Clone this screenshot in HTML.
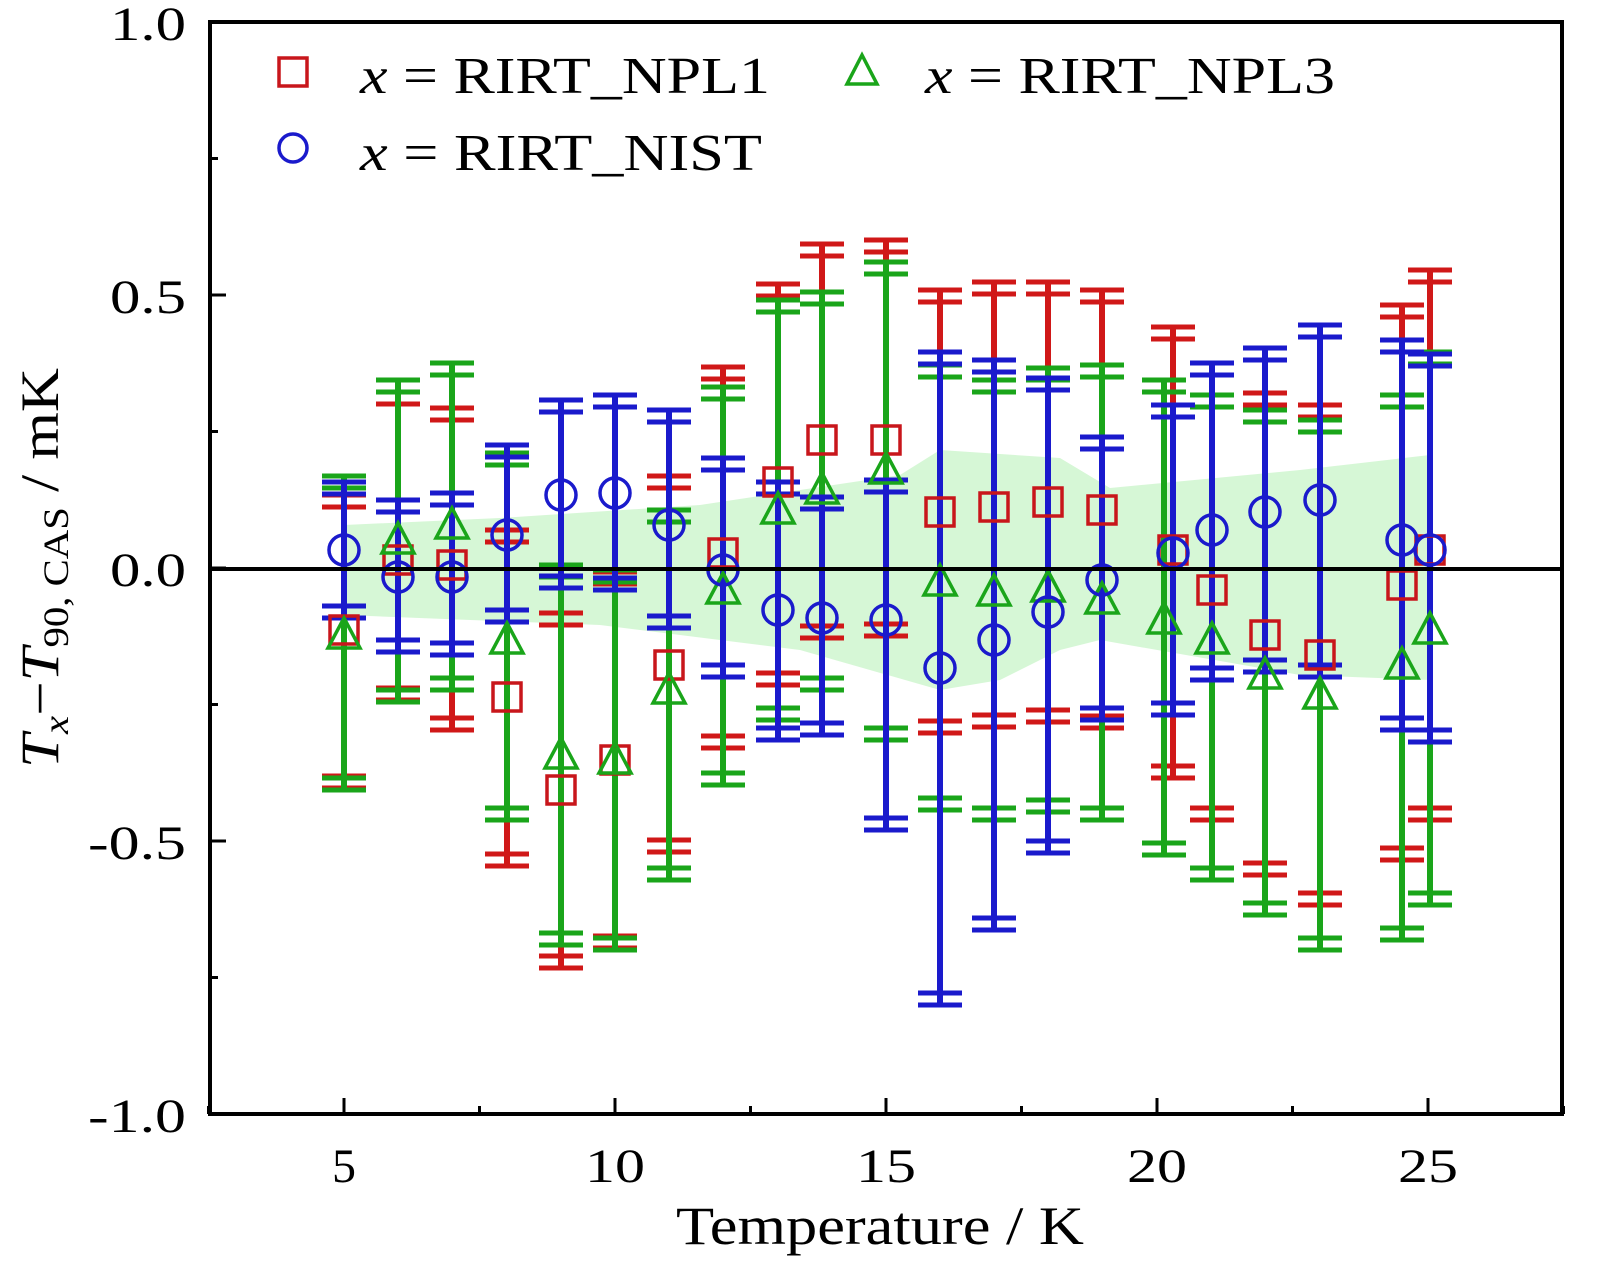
<!DOCTYPE html>
<html><head><meta charset="utf-8"><style>
html,body{margin:0;padding:0;background:#fff;}
svg{display:block;}
text{font-family:"Liberation Serif",serif;fill:#000;}
</style></head><body>
<svg id="s" width="1600" height="1284" viewBox="0 0 1600 1284" xmlns="http://www.w3.org/2000/svg">
<polygon points="344,525 500,518 700,505 900,475 940,450 1060,458 1110,488 1300,470 1430,455 1430,680 1300,675 1100,640 1060,650 1000,680 940,690 800,650 600,625 344,615" fill="#ccf5cc" opacity="0.8"/>
<g id="data"></g>
<line x1="210" y1="569" x2="1562" y2="569" stroke="#000" stroke-width="4"/>
<rect x="210" y="22" width="1352" height="1092" fill="none" stroke="#000" stroke-width="4"/>
<g id="ticks" stroke="#000" stroke-width="3"></g>
<g font-size="48" text-anchor="end" lengthAdjust="spacingAndGlyphs">
<text x="186" y="40" textLength="76" lengthAdjust="spacingAndGlyphs">1.0</text><text x="186" y="313" textLength="76" lengthAdjust="spacingAndGlyphs">0.5</text><text x="186" y="586" textLength="76" lengthAdjust="spacingAndGlyphs">0.0</text><text x="186" y="859" textLength="98" lengthAdjust="spacingAndGlyphs">-0.5</text><text x="186" y="1132" textLength="98" lengthAdjust="spacingAndGlyphs">-1.0</text>
</g>
<g font-size="48" text-anchor="middle">
<text x="344" y="1182" textLength="24" lengthAdjust="spacingAndGlyphs">5</text><text x="615" y="1182" textLength="60" lengthAdjust="spacingAndGlyphs">10</text><text x="886" y="1182" textLength="60" lengthAdjust="spacingAndGlyphs">15</text><text x="1157" y="1182" textLength="60" lengthAdjust="spacingAndGlyphs">20</text><text x="1428" y="1182" textLength="60" lengthAdjust="spacingAndGlyphs">25</text>
<text x="880" y="1244" font-size="54" textLength="408" lengthAdjust="spacingAndGlyphs">Temperature / K</text>
</g>
<text transform="translate(58,568) rotate(-90)" text-anchor="middle" font-size="54" textLength="400" lengthAdjust="spacingAndGlyphs"><tspan font-style="italic">T</tspan><tspan font-style="italic" font-size="36" dy="10">x</tspan><tspan dy="-10">−</tspan><tspan font-style="italic">T</tspan><tspan font-size="36" dy="10">90, CAS</tspan><tspan dy="-10"> / mK</tspan></text>
<g font-size="52">
<rect x="279" y="58" width="28" height="28" fill="none" stroke="#c8161b" stroke-width="3.5"/>
<text x="360" y="93" textLength="410" lengthAdjust="spacingAndGlyphs"><tspan font-style="italic">x</tspan> = RIRT_NPL1</text>
<polygon points="862,55 847,84 877,84" fill="none" stroke="#1aa51a" stroke-width="3.5"/>
<text x="925" y="93" textLength="410" lengthAdjust="spacingAndGlyphs"><tspan font-style="italic">x</tspan> = RIRT_NPL3</text>
<circle cx="293" cy="148" r="14" fill="none" stroke="#1a1acc" stroke-width="3.5"/>
<text x="360" y="170" textLength="402" lengthAdjust="spacingAndGlyphs"><tspan font-style="italic">x</tspan> = RIRT_NIST</text>
</g>
</svg>
<script>
var NS="http://www.w3.org/2000/svg",g=document.getElementById("data"),tk=document.getElementById("ticks");
function el(t,a,p){var e=document.createElementNS(NS,t);for(var k in a)e.setAttribute(k,a[k]);(p||g).appendChild(e);return e;}
var red=[[344,630,495,788],[398,560,392,700],[452,565,408,730],[507,697,530,866],[561,790,613,968],[615,760,572,948],[669,665,476,852],[723,553,367,748],[778,482,284,685],[822,440,244,638],[886,440,240,636],[940,512,290,733],[994,507,282,727],[1048,502,282,722],[1102,510,290,728],[1173,550,327,778],[1212,590,363,820],[1265,635,393,875],[1320,655,405,905],[1402,585,305,860],[1430,550,270,820]];
var grn=[[344,635,476,790],[398,540,380,702],[452,525,363,690],[507,640,453,820],[561,755,565,945],[615,760,570,950],[669,690,510,880],[723,590,387,785],[778,510,300,720],[822,490,292,690],[886,470,262,740],[940,582,365,810],[994,592,380,820],[1048,588,368,812],[1102,600,365,820],[1164,620,380,855],[1212,640,395,880],[1265,675,410,915],[1320,695,420,950],[1402,665,395,940],[1430,630,352,905]];
var blu=[[344,550,482,618],[398,577,500,652],[452,577,493,655],[507,535,445,622],[561,495,400,588],[615,493,395,590],[669,525,410,628],[723,570,458,677],[778,610,482,740],[822,618,497,735],[886,620,480,830],[940,668,352,1005],[994,640,360,930],[1048,612,378,853],[1102,580,437,720],[1173,553,405,715],[1212,530,363,680],[1265,512,348,672],[1320,500,325,677],[1402,540,340,730],[1430,550,354,742]];
function bars(d,c){d.forEach(function(p){var x=p[0];
el("line",{x1:x,y1:p[2],x2:x,y2:p[3],stroke:c,"stroke-width":6});
[p[2],p[2]+12,p[3],p[3]-12].forEach(function(y){el("line",{x1:x-22,y1:y,x2:x+22,y2:y,stroke:c,"stroke-width":5});});});}
bars(red,"#d01818");bars(grn,"#1aa51a");bars(blu,"#1a1acc");
red.forEach(function(p){el("rect",{x:p[0]-14,y:p[1]-14,width:28,height:28,fill:"none",stroke:"#c8161b","stroke-width":3.5});});
grn.forEach(function(p){var x=p[0],y=p[1];el("polygon",{points:(x)+","+(y-17)+" "+(x-16)+","+(y+13)+" "+(x+16)+","+(y+13),fill:"none",stroke:"#1aa51a","stroke-width":3.5});});
blu.forEach(function(p){el("circle",{cx:p[0],cy:p[1],r:15,fill:"none",stroke:"#1a1acc","stroke-width":3.5});});
for(var i=0;i<=8;i++){var y=22+i*136.5;el("line",{x1:210,y1:y,x2:i%2?218:226,y2:y},tk);}
for(var v=2.5;v<=27.5;v+=2.5){var x=344+(v-5)*54.2;el("line",{x1:x,y1:1114,x2:x,y2:(v%5==0)?1098:1106},tk);}
</script>
</body></html>
